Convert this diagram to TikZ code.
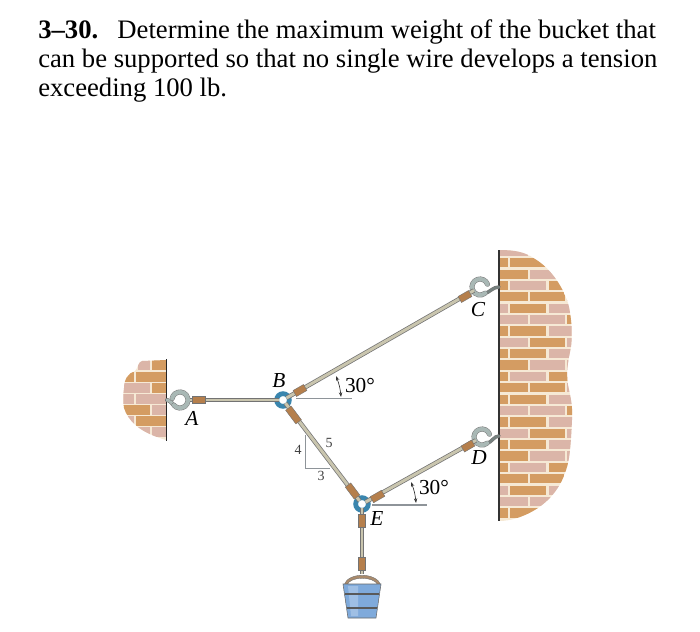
\documentclass[tikz,border=0pt]{standalone}
\usepackage{fontspec}
\setmainfont{Liberation Serif}
\usetikzlibrary{arrows.meta,calc}
\definecolor{brickO}{HTML}{D49C62}
\definecolor{brickP}{HTML}{DBB5A8}
\definecolor{mortar}{HTML}{F6E9D5}
\definecolor{sleeveC}{HTML}{B57F4C}
\definecolor{ringC}{HTML}{3A86AE}
\definecolor{hookC}{HTML}{A9B8B5}
\definecolor{wireC}{HTML}{C9C5AE}
\definecolor{dimC}{HTML}{8E9499}
\definecolor{bucketC}{HTML}{7FAADB}
\newcommand{\brk}[4]{\fill[#4] (#2,#1-4.6) rectangle (#3,#1+4.6);}
\newcommand{\rowA}[4]{\brk{#1}{500}{507.5}{#2}\brk{#1}{509.5}{546}{#3}\brk{#1}{549}{580}{#4}}
\newcommand{\rowB}[4]{\brk{#1}{500}{527.5}{#2}\brk{#1}{530}{564.5}{#3}\brk{#1}{566.5}{580}{#4}}
\tikzset{
  x=.75pt,y=-.75pt,
  prob/.style={anchor=base west,font=\fontsize{20pt}{24pt}\selectfont,inner sep=0pt},
  lab/.style={font=\fontsize{16pt}{18pt}\selectfont\itshape,inner sep=0pt},
  dimtext/.style={font=\fontsize{16pt}{18pt}\selectfont,inner sep=0pt},
  smalltext/.style={font=\fontsize{10.5pt}{12pt}\selectfont,inner sep=0pt,text=black!75},
  wire/.style={draw=black!55,double=wireC,double distance=2.2pt,line width=.55pt},
  sleeve/.style={draw=black!55,line width=.3pt,fill=sleeveC,minimum height=5.2pt,inner sep=0pt},
  ring/.style={circle,draw=ringC,line width=3.6pt,fill=white,minimum size=9.5pt,inner sep=0pt},
  eye/.style={circle,minimum size=14pt,inner sep=0pt},
  hookline/.style={draw=black!50,line width=3.8pt,line cap=round},
  hookfill/.style={draw=hookC,line width=3pt,line cap=round},
  dimline/.style={draw=dimC,line width=.8pt},
  angarrow/.style={draw=black!80,line width=.5pt,{Stealth[length=3.5pt,width=2.5pt]}-{Stealth[length=3.5pt,width=2.5pt]}},
  thin gray/.style={draw=dimC,line width=.7pt}
}
\begin{document}
\begin{tikzpicture}
\useasboundingbox (0,0) rectangle (700,632);
% text
\node[prob] (t1) at (38,38) {\textbf{3–30.}\hspace{.72em}Determine the maximum weight of the bucket that};
\node[prob] (t2) at (38,67) {can be supported so that no single wire develops a tension};
\node[prob] (t3) at (38,96) {exceeding 100 lb.};
% right wall
\begin{scope}
\clip (499,250) .. controls (515,250) and (525,252) .. (535,259)
  .. controls (550,268) and (562,285) .. (568,303)
  .. controls (572,318) and (573,340) .. (570,352)
  .. controls (568,362) and (566,372) .. (568,385)
  .. controls (570,395) and (573,405) .. (572,420)
  .. controls (571,440) and (570,460) .. (566,470)
  .. controls (560,490) and (545,508) .. (520,517)
  .. controls (512,520) and (505,521) .. (499,521) -- cycle;
\fill[mortar] (499,250) rectangle (580,521);
\rowB{251.3}{brickP}{brickP}{brickP}
\rowA{262.7}{brickO}{brickO}{brickP}
\rowB{274.1}{brickO}{brickP}{brickP}
\rowA{285.4}{brickO}{brickP}{brickO}
\rowB{296.8}{brickO}{brickO}{brickP}
\rowA{308.2}{brickP}{brickO}{brickP}
\rowB{319.5}{brickP}{brickP}{brickO}
\rowA{330.9}{brickO}{brickO}{brickP}
\rowB{342.3}{brickP}{brickO}{brickP}
\rowA{353.7}{brickO}{brickO}{brickP}
\rowB{365}{brickO}{brickP}{brickP}
\rowA{376.4}{brickO}{brickP}{brickO}
\rowB{387.8}{brickO}{brickO}{brickP}
\rowA{399.2}{brickO}{brickO}{brickP}
\rowB{410.5}{brickP}{brickP}{brickO}
\rowA{421.9}{brickO}{brickO}{brickP}
\rowB{433.3}{brickP}{brickO}{brickP}
\rowA{444.6}{brickO}{brickO}{brickP}
\rowB{456}{brickO}{brickP}{brickP}
\rowA{467.4}{brickO}{brickP}{brickO}
\rowB{478.8}{brickO}{brickO}{brickP}
\rowA{490.1}{brickP}{brickO}{brickP}
\rowB{501.5}{brickP}{brickP}{brickP}
\rowA{512.9}{brickO}{brickO}{brickP}
\end{scope}
\draw[black!80,line width=1pt] (499,250) -- (499,521);
% left wall
\begin{scope}
\clip (166,360) -- (142,361) .. controls (138,362) and (138,368) .. (135,371)
  .. controls (128,373) and (124,380) .. (124,388)
  .. controls (123,395) and (123,402) .. (124,408)
  .. controls (128,420) and (138,432) .. (166,440) -- cycle;
\fill[mortar] (120,358) rectangle (166,442);
\brk{365}{138}{149.5}{brickP}\brk{365}{151.5}{166}{brickO}
\brk{377}{124}{133.5}{brickO}\brk{377}{135.5}{166}{brickO}
\brk{388}{122}{149.5}{brickP}\brk{388}{151.5}{166}{brickO}
\brk{399}{122}{133.5}{brickP}\brk{399}{135.5}{166}{brickP}
\brk{410}{122}{149.5}{brickO}\brk{410}{151.5}{166}{brickP}
\brk{421}{122}{133.5}{brickP}\brk{421}{135.5}{166}{brickO}
\brk{432}{135}{149.5}{brickP}\brk{432}{151.5}{166}{brickP}
\end{scope}
\draw[black!85,line width=1pt] (166.5,359) -- (166.5,441);
% dimension lines
\coordinate (Bd0) at (296,398.5);
\coordinate (Bd1) at (352,398.5);
\coordinate (Ed0) at (372,505);
\coordinate (Ed1) at (427,505);
\draw[dimline] (Bd0) -- (Bd1);
\draw[dimline] (Ed0) -- (Ed1);
\coordinate (T1) at (305,435);
\coordinate (T2) at (305,468);
\coordinate (T3) at (330,468);
\draw[thin gray] (T1) -- (T2) -- (T3);
% junctions
\node[ring] (B) at (283,400) {};
\node[ring] (E) at (362,504) {};
\node[eye] (A) at (180,400) {};
\node[eye] (C) at (480,287) {};
\node[eye] (D) at (482,437) {};
\coordinate (H) at (362,574);
% hooks: opening towards the wall, tail runs back to it
\draw[black!55,line width=3pt,line cap=round] (167,400) .. controls (170,400) and (172,404) .. (175,406);
\draw[hookC,line width=2.2pt,line cap=round] (167,400) .. controls (170,400) and (172,404) .. (175,406);
\draw[black!55,line width=2.6pt,line cap=round] (499,287) .. controls (493,287) and (490,292) .. (485,293.5);
\draw[hookC!70!black,line width=1.8pt,line cap=round] (499,287) .. controls (493,287) and (490,292) .. (485,293.5);
\draw[black!55,line width=2.6pt,line cap=round] (499,436) .. controls (494,436) and (492,442) .. (487,443.5);
\draw[hookC!70!black,line width=1.8pt,line cap=round] (499,436) .. controls (494,436) and (492,442) .. (487,443.5);
\foreach \n/\sa/\da in {A/-220/-310,C/-20/-290,D/-20/-290}{
  \draw[hookline] ($(\n)+(\sa:8)$) arc[start angle=\sa,delta angle=\da,radius=8];
  \draw[hookfill] ($(\n)+(\sa:8)$) arc[start angle=\sa,delta angle=\da,radius=8];
}
% wires
\draw[wire,shorten <=-3.5pt] (B) -- (A);
\draw[wire,shorten <=-3.5pt,shorten >=-2pt] (B) -- (C);
\draw[wire,shorten <=-3.5pt,shorten >=-3.5pt] (B) -- (E);
\draw[wire,shorten <=-3.5pt,shorten >=-2pt] (E) -- (D);
\draw[wire,shorten <=-3.5pt] (E) -- (H);
% sleeves
\foreach \x/\y/\a/\l in {198.5/400/0/13,300/390.5/30/12,293.5/415/-53/17,352.5/491/-53/15,377.5/496.5/30/13,468/446/30/12,465/296.5/30/12,362/521/90/13,362/563.5/90/13}{
  \node[sleeve,rotate=\a,minimum width=\l*.75pt] (s\x) at (\x,\y) {};
}
% bucket
\draw[draw=black!55,fill=brown!70!black!70,line width=.3pt] (344,585) .. controls (348,572) and (376,572) .. (381,585)
  -- (378,585) .. controls (374,576) and (350,576) .. (347,585) -- cycle;
\fill[bucketC,draw=black!60,line width=.4pt] (343,584) -- (381,584) -- (376,618) -- (348,618) -- cycle;
\fill[white,opacity=.25] (348,586) -- (358,586) -- (358,616) -- (351,616) -- cycle;
\draw[black!65,line width=1pt] (345,594) -- (379,594);
\draw[black!65,line width=1pt] (347,608) -- (377,608);
% angle arrows
\coordinate (Ba1) at (336,376);
\coordinate (Ba2) at (341,397);
\coordinate (Ea1) at (411,482);
\coordinate (Ea2) at (416,503);
\draw[angarrow] (Ba1) to[bend left=8] (Ba2);
\draw[angarrow] (Ea1) to[bend left=8] (Ea2);
% labels
\node[lab] (la) at (192,418) {A};
\node[lab] (lb) at (279,381) {B};
\node[lab] (lc) at (478,310) {C};
\node[lab] (ld) at (479,458) {D};
\node[lab] (le) at (377,519) {E};
\node[dimtext] (d1) at (360,386) {30°};
\node[dimtext] (d2) at (434,488) {30°};
\node[smalltext] (n4) at (298,450) {4};
\node[smalltext] (n3) at (321,476) {3};
\node[smalltext] (n5) at (329,443) {5};
\end{tikzpicture}
\end{document}
